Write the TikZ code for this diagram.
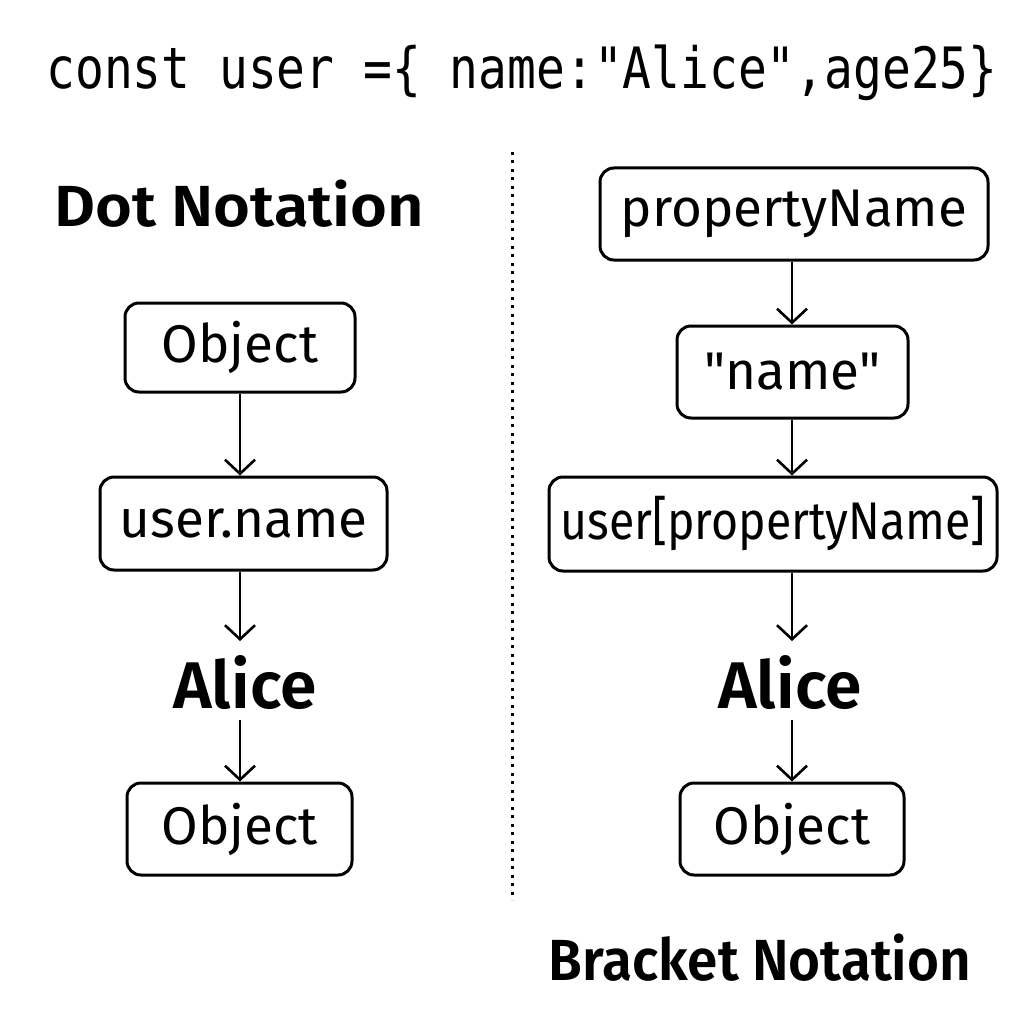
\documentclass[tikz,border=0pt]{standalone}
\usepackage{fontspec}
\setmainfont{Fira Sans}[Ligatures=TeXOff, BoldFont={Fira Sans SemiBold}]
\newfontfamily\codefont{DejaVu Sans Mono}
\usetikzlibrary{arrows.meta}
\tikzset{
  box/.style={draw, line width=3pt, rounded corners=14pt, inner sep=0pt, align=center,
    font=\fontsize{53}{60}\selectfont},
  plain/.style={inner sep=0pt, font=\fontsize{66}{74}\selectfont\bfseries},
  heading/.style={inner sep=0pt, font=\fontsize{58}{66}\selectfont\bfseries},
  link/.style={line width=2.6pt, -{Straight Barb[length=14pt,width=30pt,line width=2.6pt]}},
}
\begin{document}
\begin{tikzpicture}[x=1pt,y=-1pt]
\useasboundingbox (0,0) rectangle (1024,1024);
\fill[white] (0,0) rectangle (1024,1024);
% title
\node[inner sep=0pt, font=\fontsize{57}{64}\selectfont\codefont] (title) at (522,73)
  {\scalebox{0.84}[1]{const user =\{ name:"Alice",age25\}}};
% headings
\node[heading] (dot) at (239,204) {\scalebox{1.09}[1]{Dot Notation}};
\node[heading] (bracket) at (760,958) {\scalebox{0.945}[1]{Bracket Notation}};
% divider
\coordinate (dtop) at (512,152);
\coordinate (dbot) at (512,900);
\draw[line width=3pt, dash pattern=on 3pt off 5.5pt] (dtop) -- (dbot);
% left column
\node[box, minimum width=230pt, minimum height=89pt] (lobj) at (240,347.5) {Object};
\node[box, minimum width=287pt, minimum height=93pt] (ldot) at (243.5,523.5) {user.name};
\node[plain] (lalice) at (245,683) {Alice};
\node[box, minimum width=225pt, minimum height=92pt] (lobj2) at (239.5,829) {Object};
\draw[link] (lobj.south -| 240,0) -- (ldot.north -| 240,0);
\draw[link] (ldot.south -| 240,0) -- (240,641);
\draw[link] (240,720) -- (lobj2.north -| 240,0);
% right column
\node[box, minimum width=388pt, minimum height=92pt] (pname) at (794,214) {propertyName};
\node[box, minimum width=231pt, minimum height=92pt] (qname) at (792.5,372) {"name"};
\node[box, minimum width=448pt, minimum height=94pt] (ubr) at (773,524) {\scalebox{0.876}[1]{user[propertyName]}};
\node[plain] (ralice) at (790,683) {Alice};
\node[box, minimum width=224pt, minimum height=92pt] (robj) at (792,829) {Object};
\draw[link] (pname.south -| 792,0) -- (qname.north -| 792,0);
\draw[link] (qname.south -| 792,0) -- (ubr.north -| 792,0);
\draw[link] (ubr.south -| 792,0) -- (792,641);
\draw[link] (792,720) -- (robj.north -| 792,0);
\end{tikzpicture}
\end{document}
